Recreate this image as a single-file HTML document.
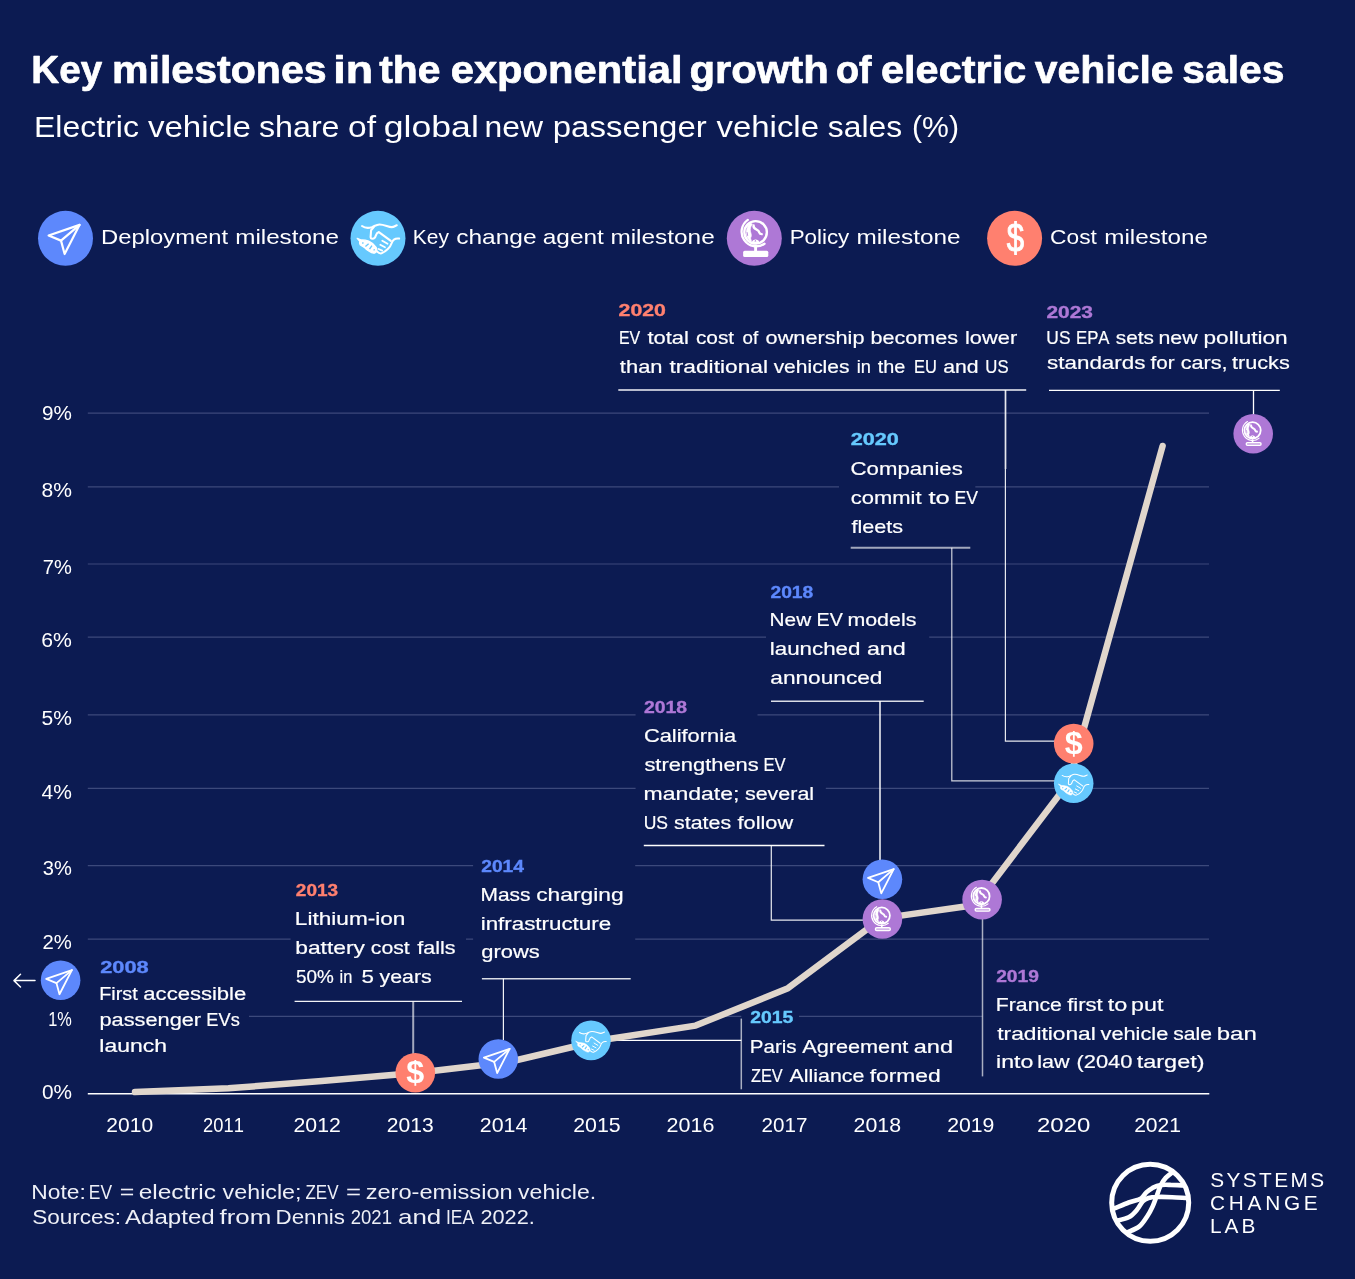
<!DOCTYPE html>
<html lang="en"><head><meta charset="utf-8"><title>Key milestones in the exponential growth of electric vehicle sales</title>
<style>
html,body{margin:0;padding:0;background:#0c1b52;}
body{width:1355px;height:1279px;overflow:hidden;}
svg{display:block;font-family:"Liberation Sans",sans-serif;font-kerning:none;}
text{white-space:pre;}
</style></head><body>
<svg width="1355" height="1279" viewBox="0 0 1355 1279">
<rect width="1355" height="1279" fill="#0c1b52"/>
<defs>
<g id="i-plane" fill="none" stroke="#fff" stroke-width="42" stroke-linejoin="round" stroke-linecap="round">
<path d="M960,385 L360,590 L600,690 L670,950 Z"/><path d="M600,690 L960,385"/>
</g>
<g id="i-hand" fill="none" stroke="#fff" stroke-width="40" stroke-linejoin="round" stroke-linecap="round">
<path d="M370,408 C420,445 500,450 560,430 C610,412 650,380 705,378 C790,375 880,430 940,430 C985,430 1010,405 1040,395"/>
<path d="M600,425 L545,490 L535,625 C535,660 585,665 615,635 C640,610 630,545 695,525 L925,695"/>
<path d="M1085,650 C1010,640 960,680 940,740 C920,810 830,900 745,935 C705,945 675,915 655,895"/>
<path d="M277,645 L356,677 C380,676 450,682 499,698 C540,715 610,770 642,820 C665,860 660,910 613,930 C590,938 540,920 499,891 C460,870 440,850 413,820 C380,795 350,785 334,770 C318,750 318,725 327,705 Z" fill="#fff" stroke-width="24"/>
<path d="M376,746 L397,725 M436,803 L497,750 M515,853 L561,786 M594,878 L613,858" stroke="#66c9fe" stroke-width="26" stroke-linecap="butt"/>
<path d="M760,690 L862,752 M722,770 L812,817 M690,850 L760,882" stroke-width="34"/>
</g>
<g id="i-hand-s" fill="none" stroke="#fff" stroke-width="28" stroke-linejoin="round" stroke-linecap="round">
<path d="M370,408 C420,445 500,450 560,430 C610,412 650,380 705,378 C790,375 880,430 940,430 C985,430 1010,405 1040,395"/>
<path d="M600,425 L545,490 L535,625 C535,660 585,665 615,635 C640,610 630,545 695,525 L925,695"/>
<path d="M1085,650 C1010,640 960,680 940,740 C920,810 830,900 745,935 C705,945 675,915 655,895"/>
<path d="M277,645 L356,677 C380,676 450,682 499,698 C540,715 610,770 642,820 C665,860 660,910 613,930 C590,938 540,920 499,891 C460,870 440,850 413,820 C380,795 350,785 334,770 C318,750 318,725 327,705 Z" fill="#fff" stroke-width="16"/>
<path d="M376,746 L397,725 M436,803 L497,750 M515,853 L561,786 M594,878 L613,858" stroke="#66c9fe" stroke-width="30" stroke-linecap="butt"/>
<path d="M760,690 L862,752 M722,770 L812,817 M690,850 L760,882" stroke-width="26"/>
</g>
<g id="i-globe" fill="none" stroke="#fff" stroke-linecap="round" stroke-linejoin="round">
<circle cx="690" cy="530" r="217" stroke-width="46"/>
<path d="M540,290 A280,280 0 1 0 862,750" stroke-width="44"/>
<path d="M575,345 C520,420 500,520 522,600 C540,655 570,690 610,705 L592,640 C620,600 604,560 592,520 C578,470 592,420 625,375 Z" fill="#fff" stroke-width="14"/>
<path d="M528,535 L536,590" stroke="#ae78d6" stroke-width="16"/>
<path d="M652,398 C637,450 690,465 730,490 C775,515 745,565 808,565" stroke-width="46"/>
<path d="M617,735 A74,74 0 0 1 763,735 Z" fill="#fff" stroke-width="12"/>
<path d="M685,672 L668,706 L704,706 Z" fill="#ae78d6" stroke="none"/>
<rect x="662" y="770" width="56" height="125" fill="#fff" stroke="none"/>
<rect x="450" y="885" width="485" height="120" rx="30" fill="#fff" stroke="none"/>
</g>
<g id="i-globe-s" fill="none" stroke="#fff" stroke-linecap="round" stroke-linejoin="round">
<g transform="translate(-42,22)">
<circle cx="690" cy="530" r="218" stroke-width="48"/>
<path d="M554,294 A272,272 0 1 0 865,738" stroke-width="30"/>
<path d="M575,345 C520,420 500,520 522,600 C540,655 570,690 610,705 L592,640 C620,600 604,560 592,520 C578,470 592,420 625,375 Z" fill="#fff" stroke-width="10"/>
<path d="M528,535 L536,590" stroke="#ae78d6" stroke-width="16"/>
<path d="M652,398 C637,450 690,465 730,490 C775,515 745,565 808,565" stroke-width="54"/>
<path d="M617,735 A74,74 0 0 1 763,735 Z" fill="#fff" stroke-width="20"/>
<path d="M685,672 L668,706 L704,706 Z" fill="#ae78d6" stroke="none"/>
</g>
<rect x="626" y="790" width="44" height="85" fill="#fff" stroke="none"/>
<rect x="479" y="881" width="397" height="73" rx="34" stroke-width="38" fill="#fff" fill-opacity="0.3"/>
</g>
</defs>

<g stroke="#3c497b" stroke-width="1.2" fill="none">
<path d="M87.8,413.1H1209.0"/>
<path d="M87.8,486.8H839.0 M975.3,486.8H1209.0"/>
<path d="M87.8,564.0H1209.0"/>
<path d="M87.8,637.2H766.0 M929.2,637.2H1209.0"/>
<path d="M87.8,714.8H635.6 M757.5,714.8H1209.0"/>
<path d="M87.8,788.3H635.6 M825.8,788.3H1209.0"/>
<path d="M87.8,865.6H473.1 M635.2,865.6H1209.0"/>
<path d="M87.8,939.2H290.6 M466.0,939.2H473.1 M635.2,939.2H1209.0"/>
<path d="M249.0,1016.4H741.3 M799.0,1016.4H982.5"/>
</g>
<path d="M87.8,1093.8H1209.3" stroke="#fff" stroke-width="1.6"/>
<g stroke="#fff" stroke-width="1.3" fill="none">
<path d="M294.6,1001.4H462" stroke-opacity="0.95" stroke-width="1.3"/>
<path d="M413.2,1001.4V1054" stroke-opacity="0.62" stroke-width="2"/>
<path d="M481.9,978.7H630.7" stroke-opacity="0.85" stroke-width="1.4"/>
<path d="M503.4,978.6V1040" stroke-opacity="0.95" stroke-width="1.2"/>
<path d="M610,1040.3H741.3" stroke-opacity="1" stroke-width="1.3"/>
<path d="M741.3,1018.6V1089.3" stroke-opacity="0.65" stroke-width="1.5"/>
<path d="M643.8,845.5H824.5" stroke-opacity="1" stroke-width="1.3"/>
<path d="M771.3,845.5V920.2H864" stroke-opacity="0.9" stroke-width="1.2"/>
<path d="M771,701.2H923.7" stroke-opacity="0.85" stroke-width="1.5"/>
<path d="M880,701V861" stroke-opacity="0.72" stroke-width="2"/>
<path d="M982.5,918V1076.4" stroke-opacity="0.65" stroke-width="1.5"/>
<path d="M850.7,547.8H970.3" stroke-opacity="0.62" stroke-width="2"/>
<path d="M951.8,547.7V780.9H1055" stroke-opacity="0.8" stroke-width="1.2"/>
<path d="M618.3,390H1026.2" stroke-opacity="0.95" stroke-width="1.4"/>
<path d="M1005.5,390V469" stroke-opacity="0.9" stroke-width="1.7"/>
<path d="M1005.4,469V741.2H1055" stroke-opacity="0.9" stroke-width="1.2"/>
<path d="M1049,390.3H1279.8 M1253.5,390.3V415" stroke-opacity="1" stroke-width="1.3"/>
</g>
<path d="M35,980.6H14 M20.5,974.2L14,980.6L20.5,987" stroke="#fff" stroke-width="1.5" fill="none" stroke-linecap="round" stroke-linejoin="round"/>
<polyline points="135,1092 228.4,1088.3 321.8,1081 415.2,1073 508.6,1062 602,1040 695.6,1025.6 788,988.2 881.6,918.4 975.5,905 1069,782 1162.6,446" fill="none" stroke="#e0d6cc" stroke-width="6.5" stroke-linejoin="round" stroke-linecap="round"/>
<circle cx="60.6" cy="980.2" r="19.8" fill="#5d88fc"/>
<use href="#i-plane" transform="translate(60.20,981.19) scale(0.04280) translate(-687,-645)"/>
<circle cx="415.3" cy="1072.7" r="19.8" fill="#ff806f"/>
<text transform="matrix(1.0154 0 0 1 406.32 1083.34)" font-size="31.85" font-weight="700" fill="#fff">$</text>
<circle cx="498.3" cy="1059" r="19.8" fill="#5d88fc"/>
<use href="#i-plane" transform="translate(497.90,1059.99) scale(0.04280) translate(-687,-645)"/>
<circle cx="591" cy="1040.4" r="19.8" fill="#66c9fe"/>
<use href="#i-hand-s" transform="translate(591,1041.39) scale(0.03736) translate(-678,-645)"/>
<circle cx="882.4" cy="919" r="19.8" fill="#ae78d6"/>
<use href="#i-globe-s" transform="translate(882.4,919) scale(0.03736) translate(-665,-645)"/>
<circle cx="882.4" cy="879.3" r="19.8" fill="#5d88fc"/>
<use href="#i-plane" transform="translate(882.00,880.29) scale(0.04280) translate(-687,-645)"/>
<circle cx="982.1" cy="899.6" r="19.8" fill="#ae78d6"/>
<use href="#i-globe-s" transform="translate(982.1,899.6) scale(0.03736) translate(-665,-645)"/>
<circle cx="1073.7" cy="783.3" r="19.8" fill="#66c9fe"/>
<use href="#i-hand-s" transform="translate(1073.7,784.29) scale(0.03736) translate(-678,-645)"/>
<circle cx="1073.7" cy="743.6" r="19.8" fill="#ff806f"/>
<text transform="matrix(1.0154 0 0 1 1064.72 754.24)" font-size="31.85" font-weight="700" fill="#fff">$</text>
<circle cx="1253.2" cy="433.8" r="19.8" fill="#ae78d6"/>
<use href="#i-globe-s" transform="translate(1253.2,433.8) scale(0.03736) translate(-665,-645)"/>
<circle cx="65.5" cy="238.3" r="27.5" fill="#5d88fc"/>
<use href="#i-plane" transform="translate(65.50,238.30) scale(0.05169) translate(-687,-645)"/>
<circle cx="378" cy="238.3" r="27.5" fill="#66c9fe"/>
<use href="#i-hand" transform="translate(378,238.30) scale(0.05189) translate(-678,-645)"/>
<circle cx="754.3" cy="238.3" r="27.5" fill="#ae78d6"/>
<use href="#i-globe" transform="translate(754.3,238.3) scale(0.05189) translate(-665,-645)"/>
<circle cx="1014.6" cy="238.3" r="27.5" fill="#ff806f"/>
<text transform="matrix(0.7648 0 0 1 1006.82 251.97)" font-size="40.76" fill="#fff" stroke="#fff" stroke-width="1">$</text>
<text transform="matrix(0.9934 0 0 1 31.31 83.30)" font-size="38.9" font-weight="700" fill="#fff" stroke="#fff" stroke-width="0.7" stroke-linejoin="round">Key</text>
<text transform="matrix(1.0560 0 0 1 111.99 83.30)" font-size="38.9" font-weight="700" fill="#fff" stroke="#fff" stroke-width="0.7" stroke-linejoin="round">milestones</text>
<text transform="matrix(1.1515 0 0 1 333.37 83.30)" font-size="38.9" font-weight="700" fill="#fff" stroke="#fff" stroke-width="0.7" stroke-linejoin="round">in</text>
<text transform="matrix(1.0505 0 0 1 379.20 83.30)" font-size="38.9" font-weight="700" fill="#fff" stroke="#fff" stroke-width="0.7" stroke-linejoin="round">the</text>
<text transform="matrix(1.0737 0 0 1 450.67 83.30)" font-size="38.9" font-weight="700" fill="#fff" stroke="#fff" stroke-width="0.7" stroke-linejoin="round">exponential</text>
<text transform="matrix(1.0762 0 0 1 689.38 83.30)" font-size="38.9" font-weight="700" fill="#fff" stroke="#fff" stroke-width="0.7" stroke-linejoin="round">growth</text>
<text transform="matrix(0.9696 0 0 1 836.03 83.30)" font-size="38.9" font-weight="700" fill="#fff" stroke="#fff" stroke-width="0.7" stroke-linejoin="round">of</text>
<text transform="matrix(1.0667 0 0 1 880.98 83.30)" font-size="38.9" font-weight="700" fill="#fff" stroke="#fff" stroke-width="0.7" stroke-linejoin="round">electric</text>
<text transform="matrix(1.0519 0 0 1 1034.84 83.30)" font-size="38.9" font-weight="700" fill="#fff" stroke="#fff" stroke-width="0.7" stroke-linejoin="round">vehicle</text>
<text transform="matrix(1.0489 0 0 1 1182.37 83.30)" font-size="38.9" font-weight="700" fill="#fff" stroke="#fff" stroke-width="0.7" stroke-linejoin="round">sales</text>
<text transform="matrix(1.1079 0 0 1 33.97 136.60)" font-size="28.9" fill="#fff">Electric</text>
<text transform="matrix(1.1459 0 0 1 147.89 136.60)" font-size="28.9" fill="#fff">vehicle</text>
<text transform="matrix(1.1139 0 0 1 259.00 136.60)" font-size="28.9" fill="#fff">share</text>
<text transform="matrix(1.1600 0 0 1 348.09 136.60)" font-size="28.9" fill="#fff">of</text>
<text transform="matrix(1.2327 0 0 1 383.80 136.60)" font-size="28.9" fill="#fff">global</text>
<text transform="matrix(1.1023 0 0 1 484.58 136.60)" font-size="28.9" fill="#fff">new</text>
<text transform="matrix(1.1409 0 0 1 552.77 136.60)" font-size="28.9" fill="#fff">passenger</text>
<text transform="matrix(1.1414 0 0 1 716.39 136.60)" font-size="28.9" fill="#fff">vehicle</text>
<text transform="matrix(1.1018 0 0 1 827.81 136.60)" font-size="28.9" fill="#fff">sales</text>
<text transform="matrix(1.0445 0 0 1 912.03 136.60)" font-size="28.9" fill="#fff">(%)</text>
<text transform="matrix(1.1622 0 0 1 101.05 244.00)" font-size="20.5" fill="#fff">Deployment</text>
<text transform="matrix(1.1830 0 0 1 235.19 244.00)" font-size="20.5" fill="#fff">milestone</text>
<text transform="matrix(1.0237 0 0 1 412.78 244.00)" font-size="20.5" fill="#fff">Key</text>
<text transform="matrix(1.1959 0 0 1 456.16 244.00)" font-size="20.5" fill="#fff">change</text>
<text transform="matrix(1.1914 0 0 1 542.76 244.00)" font-size="20.5" fill="#fff">agent</text>
<text transform="matrix(1.1900 0 0 1 610.38 244.00)" font-size="20.5" fill="#fff">milestone</text>
<text transform="matrix(1.0914 0 0 1 789.66 244.00)" font-size="20.5" fill="#fff">Policy</text>
<text transform="matrix(1.1876 0 0 1 856.38 244.00)" font-size="20.5" fill="#fff">milestone</text>
<text transform="matrix(1.1108 0 0 1 1050.04 244.00)" font-size="20.5" fill="#fff">Cost</text>
<text transform="matrix(1.1841 0 0 1 1104.19 244.00)" font-size="20.5" fill="#fff">milestone</text>
<text transform="matrix(0.9948 0 0 1 42.03 419.50)" font-size="20.8" fill="#fff">9%</text>
<text transform="matrix(1.0135 0 0 1 41.48 497.00)" font-size="20.8" fill="#fff">8%</text>
<text transform="matrix(0.9662 0 0 1 42.87 573.60)" font-size="20.8" fill="#fff">7%</text>
<text transform="matrix(1.0189 0 0 1 41.32 647.30)" font-size="20.8" fill="#fff">6%</text>
<text transform="matrix(1.0109 0 0 1 41.56 724.50)" font-size="20.8" fill="#fff">5%</text>
<text transform="matrix(1.0089 0 0 1 41.62 798.50)" font-size="20.8" fill="#fff">4%</text>
<text transform="matrix(0.9674 0 0 1 42.83 875.40)" font-size="20.8" fill="#fff">3%</text>
<text transform="matrix(0.9761 0 0 1 42.58 948.50)" font-size="20.8" fill="#fff">2%</text>
<text transform="matrix(0.7860 0 0 1 48.15 1026.00)" font-size="20.8" fill="#fff">1%</text>
<text transform="matrix(0.9997 0 0 1 41.89 1098.70)" font-size="20.8" fill="#fff">0%</text>
<text transform="matrix(1.0208 0 0 1 106.34 1132.00)" font-size="20.6" fill="#fff">2010</text>
<text transform="matrix(0.8907 0 0 1 203.08 1132.00)" font-size="20.6" fill="#fff">2011</text>
<text transform="matrix(1.0330 0 0 1 293.53 1132.00)" font-size="20.6" fill="#fff">2012</text>
<text transform="matrix(1.0231 0 0 1 386.84 1132.00)" font-size="20.6" fill="#fff">2013</text>
<text transform="matrix(1.0388 0 0 1 479.82 1132.00)" font-size="20.6" fill="#fff">2014</text>
<text transform="matrix(1.0358 0 0 1 573.23 1132.00)" font-size="20.6" fill="#fff">2015</text>
<text transform="matrix(1.0436 0 0 1 666.52 1132.00)" font-size="20.6" fill="#fff">2016</text>
<text transform="matrix(1.0010 0 0 1 761.56 1132.00)" font-size="20.6" fill="#fff">2017</text>
<text transform="matrix(1.0365 0 0 1 853.53 1132.00)" font-size="20.6" fill="#fff">2018</text>
<text transform="matrix(1.0316 0 0 1 947.13 1132.00)" font-size="20.6" fill="#fff">2019</text>
<text transform="matrix(1.1640 0 0 1 1036.99 1132.00)" font-size="20.6" fill="#fff">2020</text>
<text transform="matrix(1.0232 0 0 1 1134.14 1132.00)" font-size="20.6" fill="#fff">2021</text>
<text transform="matrix(1.2984 0 0 1 100.14 973.20)" font-size="16.8" font-weight="700" fill="#5d88fc" stroke="#5d88fc" stroke-width="0.35">2008</text>
<text transform="matrix(1.0785 0 0 1 99.28 999.60)" font-size="18.3" fill="#fff" stroke="#fff" stroke-width="0.2">First</text>
<text transform="matrix(1.2057 0 0 1 143.36 999.60)" font-size="18.3" fill="#fff" stroke="#fff" stroke-width="0.2">accessible</text>
<text transform="matrix(1.1896 0 0 1 99.50 1025.70)" font-size="18.3" fill="#fff" stroke="#fff" stroke-width="0.2">passenger</text>
<text transform="matrix(0.9968 0 0 1 206.30 1025.70)" font-size="18.3" fill="#fff" stroke="#fff" stroke-width="0.2">EVs</text>
<text transform="matrix(1.2562 0 0 1 99.35 1051.80)" font-size="18.3" fill="#fff" stroke="#fff" stroke-width="0.2">launch</text>
<text transform="matrix(1.1303 0 0 1 295.84 895.70)" font-size="16.8" font-weight="700" fill="#ff806f" stroke="#ff806f" stroke-width="0.35">2013</text>
<text transform="matrix(1.2359 0 0 1 294.84 925.20)" font-size="18.3" fill="#fff" stroke="#fff" stroke-width="0.2">Lithium-ion</text>
<text transform="matrix(1.2479 0 0 1 295.23 954.10)" font-size="18.3" fill="#fff" stroke="#fff" stroke-width="0.2">battery</text>
<text transform="matrix(1.1608 0 0 1 370.80 954.10)" font-size="18.3" fill="#fff" stroke="#fff" stroke-width="0.2">cost</text>
<text transform="matrix(1.1764 0 0 1 417.30 954.10)" font-size="18.3" fill="#fff" stroke="#fff" stroke-width="0.2">falls</text>
<text transform="matrix(1.0329 0 0 1 295.94 982.80)" font-size="18.3" fill="#fff" stroke="#fff" stroke-width="0.2">50%</text>
<text transform="matrix(0.8960 0 0 1 339.50 982.80)" font-size="18.3" fill="#fff" stroke="#fff" stroke-width="0.2">in</text>
<text transform="matrix(1.2217 0 0 1 361.50 982.80)" font-size="18.3" fill="#fff" stroke="#fff" stroke-width="0.2">5</text>
<text transform="matrix(1.1648 0 0 1 379.55 982.80)" font-size="18.3" fill="#fff" stroke="#fff" stroke-width="0.2">years</text>
<text transform="matrix(1.1444 0 0 1 481.23 871.80)" font-size="16.8" font-weight="700" fill="#5d88fc" stroke="#5d88fc" stroke-width="0.35">2014</text>
<text transform="matrix(1.1429 0 0 1 480.48 901.00)" font-size="18.3" fill="#fff" stroke="#fff" stroke-width="0.2">Mass</text>
<text transform="matrix(1.2456 0 0 1 536.23 901.00)" font-size="18.3" fill="#fff" stroke="#fff" stroke-width="0.2">charging</text>
<text transform="matrix(1.2219 0 0 1 480.70 929.70)" font-size="18.3" fill="#fff" stroke="#fff" stroke-width="0.2">infrastructure</text>
<text transform="matrix(1.1987 0 0 1 481.28 958.40)" font-size="18.3" fill="#fff" stroke="#fff" stroke-width="0.2">grows</text>
<text transform="matrix(1.1535 0 0 1 750.23 1023.30)" font-size="16.8" font-weight="700" fill="#66c9fe" stroke="#66c9fe" stroke-width="0.35">2015</text>
<text transform="matrix(1.1206 0 0 1 749.82 1052.90)" font-size="18.3" fill="#fff" stroke="#fff" stroke-width="0.2">Paris</text>
<text transform="matrix(1.1864 0 0 1 802.16 1052.90)" font-size="18.3" fill="#fff" stroke="#fff" stroke-width="0.2">Agreement</text>
<text transform="matrix(1.2878 0 0 1 913.70 1052.90)" font-size="18.3" fill="#fff" stroke="#fff" stroke-width="0.2">and</text>
<text transform="matrix(0.8932 0 0 1 750.98 1081.70)" font-size="18.3" fill="#fff" stroke="#fff" stroke-width="0.2">ZEV</text>
<text transform="matrix(1.1686 0 0 1 789.56 1081.70)" font-size="18.3" fill="#fff" stroke="#fff" stroke-width="0.2">Alliance</text>
<text transform="matrix(1.2483 0 0 1 869.68 1081.70)" font-size="18.3" fill="#fff" stroke="#fff" stroke-width="0.2">formed</text>
<text transform="matrix(1.1551 0 0 1 643.93 713.00)" font-size="16.8" font-weight="700" fill="#ae78d6" stroke="#ae78d6" stroke-width="0.35">2018</text>
<text transform="matrix(1.1942 0 0 1 643.89 742.10)" font-size="18.3" fill="#fff" stroke="#fff" stroke-width="0.2">California</text>
<text transform="matrix(1.1963 0 0 1 644.39 771.30)" font-size="18.3" fill="#fff" stroke="#fff" stroke-width="0.2">strengthens</text>
<text transform="matrix(0.9111 0 0 1 763.43 771.30)" font-size="18.3" fill="#fff" stroke="#fff" stroke-width="0.2">EV</text>
<text transform="matrix(1.2581 0 0 1 643.47 800.10)" font-size="18.3" fill="#fff" stroke="#fff" stroke-width="0.2">mandate;</text>
<text transform="matrix(1.1736 0 0 1 744.90 800.10)" font-size="18.3" fill="#fff" stroke="#fff" stroke-width="0.2">several</text>
<text transform="matrix(0.9581 0 0 1 643.65 829.00)" font-size="18.3" fill="#fff" stroke="#fff" stroke-width="0.2">US</text>
<text transform="matrix(1.1689 0 0 1 674.10 829.00)" font-size="18.3" fill="#fff" stroke="#fff" stroke-width="0.2">states</text>
<text transform="matrix(1.1874 0 0 1 737.59 829.00)" font-size="18.3" fill="#fff" stroke="#fff" stroke-width="0.2">follow</text>
<text transform="matrix(1.1468 0 0 1 770.43 597.60)" font-size="16.8" font-weight="700" fill="#5d88fc" stroke="#5d88fc" stroke-width="0.35">2018</text>
<text transform="matrix(1.1351 0 0 1 769.60 626.20)" font-size="18.3" fill="#fff" stroke="#fff" stroke-width="0.2">New</text>
<text transform="matrix(1.0775 0 0 1 816.58 626.20)" font-size="18.3" fill="#fff" stroke="#fff" stroke-width="0.2">EV</text>
<text transform="matrix(1.1695 0 0 1 847.38 626.20)" font-size="18.3" fill="#fff" stroke="#fff" stroke-width="0.2">models</text>
<text transform="matrix(1.2217 0 0 1 769.79 655.30)" font-size="18.3" fill="#fff" stroke="#fff" stroke-width="0.2">launched</text>
<text transform="matrix(1.2738 0 0 1 866.91 655.30)" font-size="18.3" fill="#fff" stroke="#fff" stroke-width="0.2">and</text>
<text transform="matrix(1.2380 0 0 1 770.34 684.20)" font-size="18.3" fill="#fff" stroke="#fff" stroke-width="0.2">announced</text>
<text transform="matrix(1.1447 0 0 1 996.13 981.60)" font-size="16.8" font-weight="700" fill="#ae78d6" stroke="#ae78d6" stroke-width="0.35">2019</text>
<text transform="matrix(1.1585 0 0 1 995.86 1011.00)" font-size="18.3" fill="#fff" stroke="#fff" stroke-width="0.2">France</text>
<text transform="matrix(1.2068 0 0 1 1067.19 1011.00)" font-size="18.3" fill="#fff" stroke="#fff" stroke-width="0.2">first</text>
<text transform="matrix(1.2802 0 0 1 1107.85 1011.00)" font-size="18.3" fill="#fff" stroke="#fff" stroke-width="0.2">to</text>
<text transform="matrix(1.2683 0 0 1 1131.10 1011.00)" font-size="18.3" fill="#fff" stroke="#fff" stroke-width="0.2">put</text>
<text transform="matrix(1.2435 0 0 1 997.26 1039.80)" font-size="18.3" fill="#fff" stroke="#fff" stroke-width="0.2">traditional</text>
<text transform="matrix(1.1892 0 0 1 1100.53 1039.80)" font-size="18.3" fill="#fff" stroke="#fff" stroke-width="0.2">vehicle</text>
<text transform="matrix(1.1535 0 0 1 1173.31 1039.80)" font-size="18.3" fill="#fff" stroke="#fff" stroke-width="0.2">sale</text>
<text transform="matrix(1.3101 0 0 1 1216.75 1039.80)" font-size="18.3" fill="#fff" stroke="#fff" stroke-width="0.2">ban</text>
<text transform="matrix(1.2649 0 0 1 996.05 1068.40)" font-size="18.3" fill="#fff" stroke="#fff" stroke-width="0.2">into</text>
<text transform="matrix(1.1800 0 0 1 1037.14 1068.40)" font-size="18.3" fill="#fff" stroke="#fff" stroke-width="0.2">law</text>
<text transform="matrix(1.1968 0 0 1 1076.44 1068.40)" font-size="18.3" fill="#fff" stroke="#fff" stroke-width="0.2">(2040</text>
<text transform="matrix(1.2821 0 0 1 1136.74 1068.40)" font-size="18.3" fill="#fff" stroke="#fff" stroke-width="0.2">target)</text>
<text transform="matrix(1.2880 0 0 1 850.65 445.40)" font-size="16.8" font-weight="700" fill="#66c9fe" stroke="#66c9fe" stroke-width="0.35">2020</text>
<text transform="matrix(1.2125 0 0 1 850.57 474.80)" font-size="18.3" fill="#fff" stroke="#fff" stroke-width="0.2">Companies</text>
<text transform="matrix(1.2023 0 0 1 850.77 504.20)" font-size="18.3" fill="#fff" stroke="#fff" stroke-width="0.2">commit</text>
<text transform="matrix(1.3998 0 0 1 928.41 504.20)" font-size="18.3" fill="#fff" stroke="#fff" stroke-width="0.2">to</text>
<text transform="matrix(0.9636 0 0 1 954.55 504.20)" font-size="18.3" fill="#fff" stroke="#fff" stroke-width="0.2">EV</text>
<text transform="matrix(1.1794 0 0 1 851.39 533.00)" font-size="18.3" fill="#fff" stroke="#fff" stroke-width="0.2">fleets</text>
<text transform="matrix(1.2686 0 0 1 618.56 315.90)" font-size="16.8" font-weight="700" fill="#ff806f" stroke="#ff806f" stroke-width="0.35">2020</text>
<text transform="matrix(0.8716 0 0 1 618.89 344.10)" font-size="18.3" fill="#fff" stroke="#fff" stroke-width="0.2">EV</text>
<text transform="matrix(1.1998 0 0 1 647.47 344.10)" font-size="18.3" fill="#fff" stroke="#fff" stroke-width="0.2">total</text>
<text transform="matrix(1.1393 0 0 1 695.91 344.10)" font-size="18.3" fill="#fff" stroke="#fff" stroke-width="0.2">cost</text>
<text transform="matrix(1.0262 0 0 1 742.51 344.10)" font-size="18.3" fill="#fff" stroke="#fff" stroke-width="0.2">of</text>
<text transform="matrix(1.1859 0 0 1 765.59 344.10)" font-size="18.3" fill="#fff" stroke="#fff" stroke-width="0.2">ownership</text>
<text transform="matrix(1.1780 0 0 1 870.51 344.10)" font-size="18.3" fill="#fff" stroke="#fff" stroke-width="0.2">becomes</text>
<text transform="matrix(1.1921 0 0 1 965.03 344.10)" font-size="18.3" fill="#fff" stroke="#fff" stroke-width="0.2">lower</text>
<text transform="matrix(1.1976 0 0 1 619.87 373.00)" font-size="18.3" fill="#fff" stroke="#fff" stroke-width="0.2">than</text>
<text transform="matrix(1.2422 0 0 1 669.46 373.00)" font-size="18.3" fill="#fff" stroke="#fff" stroke-width="0.2">traditional</text>
<text transform="matrix(1.1470 0 0 1 773.63 373.00)" font-size="18.3" fill="#fff" stroke="#fff" stroke-width="0.2">vehicles</text>
<text transform="matrix(0.9974 0 0 1 856.78 373.00)" font-size="18.3" fill="#fff" stroke="#fff" stroke-width="0.2">in</text>
<text transform="matrix(1.0842 0 0 1 877.80 373.00)" font-size="18.3" fill="#fff" stroke="#fff" stroke-width="0.2">the</text>
<text transform="matrix(0.8974 0 0 1 913.95 373.00)" font-size="18.3" fill="#fff" stroke="#fff" stroke-width="0.2">EU</text>
<text transform="matrix(1.1583 0 0 1 943.30 373.00)" font-size="18.3" fill="#fff" stroke="#fff" stroke-width="0.2">and</text>
<text transform="matrix(0.9150 0 0 1 985.31 373.00)" font-size="18.3" fill="#fff" stroke="#fff" stroke-width="0.2">US</text>
<text transform="matrix(1.2436 0 0 1 1046.48 318.00)" font-size="16.8" font-weight="700" fill="#ae78d6" stroke="#ae78d6" stroke-width="0.35">2023</text>
<text transform="matrix(0.9495 0 0 1 1046.36 344.20)" font-size="18.3" fill="#fff" stroke="#fff" stroke-width="0.2">US</text>
<text transform="matrix(0.9150 0 0 1 1076.03 344.20)" font-size="18.3" fill="#fff" stroke="#fff" stroke-width="0.2">EPA</text>
<text transform="matrix(1.1361 0 0 1 1115.82 344.20)" font-size="18.3" fill="#fff" stroke="#fff" stroke-width="0.2">sets</text>
<text transform="matrix(1.1667 0 0 1 1158.48 344.20)" font-size="18.3" fill="#fff" stroke="#fff" stroke-width="0.2">new</text>
<text transform="matrix(1.2355 0 0 1 1203.54 344.20)" font-size="18.3" fill="#fff" stroke="#fff" stroke-width="0.2">pollution</text>
<text transform="matrix(1.2236 0 0 1 1047.08 369.00)" font-size="18.3" fill="#fff" stroke="#fff" stroke-width="0.2">standards</text>
<text transform="matrix(1.1254 0 0 1 1150.61 369.00)" font-size="18.3" fill="#fff" stroke="#fff" stroke-width="0.2">for</text>
<text transform="matrix(1.1844 0 0 1 1180.68 369.00)" font-size="18.3" fill="#fff" stroke="#fff" stroke-width="0.2">cars,</text>
<text transform="matrix(1.1824 0 0 1 1232.07 369.00)" font-size="18.3" fill="#fff" stroke="#fff" stroke-width="0.2">trucks</text>
<text transform="matrix(1.1005 0 0 1 31.33 1198.60)" font-size="20.7" fill="#eef0f7">Note:</text>
<text transform="matrix(0.8403 0 0 1 88.87 1198.60)" font-size="20.7" fill="#eef0f7">EV</text>
<text transform="matrix(1.2032 0 0 1 119.68 1198.60)" font-size="20.7" fill="#eef0f7">=</text>
<text transform="matrix(1.1802 0 0 1 138.66 1198.60)" font-size="20.7" fill="#eef0f7">electric</text>
<text transform="matrix(1.1252 0 0 1 222.62 1198.60)" font-size="20.7" fill="#eef0f7">vehicle;</text>
<text transform="matrix(0.8226 0 0 1 305.46 1198.60)" font-size="20.7" fill="#eef0f7">ZEV</text>
<text transform="matrix(1.2429 0 0 1 345.94 1198.60)" font-size="20.7" fill="#eef0f7">=</text>
<text transform="matrix(1.1417 0 0 1 365.64 1198.60)" font-size="20.7" fill="#eef0f7">zero-emission</text>
<text transform="matrix(1.1154 0 0 1 518.02 1198.60)" font-size="20.7" fill="#eef0f7">vehicle.</text>
<text transform="matrix(1.0893 0 0 1 32.18 1223.50)" font-size="20.7" fill="#eef0f7">Sources:</text>
<text transform="matrix(1.1631 0 0 1 125.05 1223.50)" font-size="20.7" fill="#eef0f7">Adapted</text>
<text transform="matrix(1.2531 0 0 1 219.43 1223.50)" font-size="20.7" fill="#eef0f7">from</text>
<text transform="matrix(1.0776 0 0 1 275.57 1223.50)" font-size="20.7" fill="#eef0f7">Dennis</text>
<text transform="matrix(0.8955 0 0 1 350.77 1223.50)" font-size="20.7" fill="#eef0f7">2021</text>
<text transform="matrix(1.2530 0 0 1 398.00 1223.50)" font-size="20.7" fill="#eef0f7">and</text>
<text transform="matrix(0.8436 0 0 1 445.99 1223.50)" font-size="20.7" fill="#eef0f7">IEA</text>
<text transform="matrix(1.0518 0 0 1 480.41 1223.50)" font-size="20.7" fill="#eef0f7">2022.</text>
<g fill="none" stroke="#fff" stroke-width="4.6" stroke-linecap="butt">
<circle cx="1150.2" cy="1202.8" r="38.5" stroke-width="5"/>
<path d="M1112.3,1209.3 C1115.1,1208.2 1123.9,1204.4 1128.7,1202.5 C1133.5,1200.7 1138.2,1200.1 1141.1,1198.4 C1143.9,1196.8 1144.1,1194.4 1146.0,1192.7 C1147.9,1190.9 1150.1,1189.2 1152.5,1187.9 C1155.0,1186.7 1157.7,1185.6 1160.8,1185.1 C1163.8,1184.6 1166.8,1184.8 1170.6,1184.9 C1174.4,1184.9 1181.6,1185.4 1183.7,1185.5"/>
<path d="M1116.4,1220.8 C1118.5,1220.2 1125.3,1219.1 1128.7,1217.3 C1132.2,1215.5 1134.6,1212.6 1136.9,1209.9 C1139.3,1207.3 1140.8,1203.3 1142.7,1201.3 C1144.6,1199.3 1146.0,1198.8 1148.4,1198.0 C1150.9,1197.3 1153.5,1197.1 1157.5,1197.0 C1161.4,1196.8 1167.3,1197.0 1172.2,1197.2 C1177.2,1197.4 1184.6,1197.9 1187.0,1198.0"/>
<path d="M1127.1,1232.5 C1129.1,1231.5 1136.0,1229.2 1139.4,1226.4 C1142.8,1223.5 1145.4,1219.0 1147.6,1215.7 C1149.8,1212.4 1151.0,1209.9 1152.5,1206.7 C1154.1,1203.4 1155.3,1199.5 1156.7,1196.0 C1158.0,1192.4 1159.3,1188.3 1160.8,1185.3 C1162.3,1182.3 1163.7,1180.1 1165.7,1177.9 C1167.7,1175.7 1171.5,1173.0 1172.7,1172.0"/>
</g>
<text x="1210.16" y="1186.90" font-size="20.8" fill="#fff" letter-spacing="2.417">SYSTEMS</text>
<text x="1210.04" y="1210.10" font-size="20.8" fill="#fff" letter-spacing="3.732">CHANGE</text>
<text x="1209.89" y="1233.40" font-size="20.8" fill="#fff" letter-spacing="3.044">LAB</text>
</svg></body></html>
